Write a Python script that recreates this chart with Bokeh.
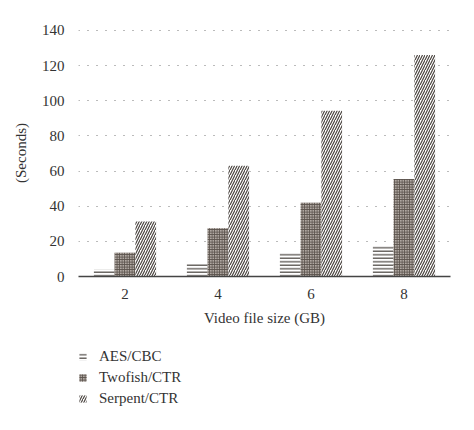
from bokeh.plotting import figure
from bokeh.layouts import column
from bokeh.models import ColumnDataSource, FactorRange, Range1d, Legend, LegendItem, SingleIntervalTicker
from bokeh.transform import dodge
from bokeh.embed import file_html
from bokeh.resources import INLINE

sizes = ["2", "4", "6", "8"]
aes_cbc = [3.8, 7.5, 13.5, 17.3]
twofish_ctr = [13.5, 27.5, 42.0, 55.5]
serpent_ctr = [31.3, 63.0, 94.3, 126.0]
series_names = ["AES/CBC", "Twofish/CTR", "Serpent/CTR"]

src = ColumnDataSource(dict(x=sizes, aes=aes_cbc, two=twofish_ctr, serp=serpent_ctr))

FONT = "Liberation Serif"
INK = "#4a4440"
styles = [
    dict(fill_color="white", hatch_pattern="horizontal_line", hatch_color=INK, hatch_scale=3.5, hatch_weight=1.2),
    dict(fill_color="#b0a8a2", hatch_pattern="cross", hatch_color="#5a524c", hatch_scale=2.5, hatch_weight=1),
    dict(fill_color="white", hatch_pattern="right_diagonal_line", hatch_color=INK, hatch_scale=5, hatch_weight=1.2),
]
cols = ["aes", "two", "serp"]

p = figure(x_range=FactorRange(*sizes, range_padding=0), y_range=Range1d(0, 140.5),
           frame_width=372, frame_height=247, width=458, height=330,
           min_border_left=78, min_border_right=8, min_border_top=29, min_border_bottom=54,
           output_backend="svg", toolbar_location=None)
p.outline_line_color = None

w = 0.223
for off, col, st in zip([-w, 0, w], cols, styles):
    p.vbar(x=dodge("x", off, range=p.x_range), top=col, width=w, source=src,
           line_color=None, **st)

p.xgrid.grid_line_color = None
p.ygrid.grid_line_color = "#777777"
p.ygrid.grid_line_dash = "1 8"
p.ygrid.grid_line_width = 1.2
p.yaxis.ticker = SingleIntervalTicker(interval=20)

for ax in (p.xaxis, p.yaxis):
    ax.major_tick_line_color = None
    ax.minor_tick_line_color = None
    ax.major_label_text_font = FONT
    ax.major_label_text_font_size = "15px"
    ax.major_label_text_color = "#333333"
    ax.axis_label_text_font = FONT
    ax.axis_label_text_font_size = "15px"
    ax.axis_label_text_font_style = "normal"
    ax.axis_label_text_color = "#333333"

p.yaxis.axis_line_color = None
p.yaxis.major_label_standoff = 8
p.yaxis.axis_label = "(Seconds)"
p.yaxis.axis_label_standoff = 10
p.xaxis.axis_line_color = "#444444"
p.xaxis.axis_line_width = 1.5
p.xaxis.major_label_standoff = 6
p.xaxis.axis_label = "Video file size (GB)"
p.xaxis.axis_label_standoff = 8

# legend panel (its bars sit below the visible y range; only the legend shows)
p2 = figure(x_range=FactorRange(*sizes), y_range=Range1d(500, 600),
            width=458, height=90, min_border_left=78, min_border_right=8,
            min_border_top=17, min_border_bottom=0,
            output_backend="svg", toolbar_location=None)
p2.outline_line_color = None
p2.axis.visible = False
p2.grid.visible = False
items = []
for name, col, st in zip(series_names, cols, styles):
    r = p2.vbar(x="x", top=col, width=0.2, source=src, line_color=None, **st)
    items.append(LegendItem(label=name, renderers=[r]))

legend = Legend(items=items, location="top_left", padding=0, margin=0, spacing=3,
                glyph_width=9, glyph_height=9, label_standoff=12,
                label_text_font=FONT, label_text_font_size="15px",
                label_text_color="#333333", label_height=18,
                background_fill_alpha=0, border_line_color=None)
p2.add_layout(legend, "center")

layout = column(p, p2, spacing=0)
open("out.html", "w").write(file_html(layout, INLINE))
